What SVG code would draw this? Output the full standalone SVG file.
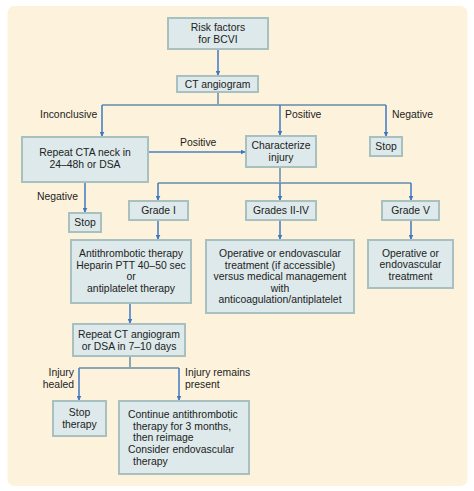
<svg xmlns="http://www.w3.org/2000/svg" width="474" height="491" viewBox="0 0 474 491">
<defs>
<marker id="ah" viewBox="0 0 8 8" refX="7" refY="4" markerWidth="5" markerHeight="5" orient="auto" markerUnits="userSpaceOnUse">
<path d="M0,0 L8,4 L0,8 z" fill="#3f78c2"/>
</marker>
<style>
.bx{fill:#dde9ea;stroke:#a9c0c0;stroke-width:2}
.t{font-family:"Liberation Sans",Arial,sans-serif;font-size:10.4px;fill:#222;text-anchor:middle}
.l{font-family:"Liberation Sans",Arial,sans-serif;font-size:10.4px;fill:#222}
.ln{fill:none;stroke:#8aa5b5;stroke-width:2}
.ar{fill:none;stroke:#4a80c4;stroke-width:1.6;marker-end:url(#ah)}
</style>
</defs>
<rect x="0" y="0" width="474" height="491" fill="#ffffff"/>
<rect x="7.5" y="6" width="460" height="480" rx="7" fill="#fdf3dc"/>

<g id="connectors">
<path class="ar" d="M218,49 V75"/>
<path class="ln" d="M218,92 V105 M102,105 H386"/>
<path class="ar" d="M102,105 V136"/>
<path class="ar" d="M280,105 V135"/>
<path class="ar" d="M386,105 V136"/>
<path class="ar" d="M148,152 H245"/>
<path class="ar" d="M85,182 V212"/>
<path class="ln" d="M280,167 V183 M158,183 H411"/>
<path class="ar" d="M158,183 V200"/>
<path class="ar" d="M280,183 V200"/>
<path class="ar" d="M411,183 V200"/>
<path class="ar" d="M158,220 V239"/>
<path class="ar" d="M280,220 V239"/>
<path class="ar" d="M411,220 V239"/>
<path class="ar" d="M130,303 V323"/>
<path class="ln" d="M130,356 V368 M79,368 H179"/>
<path class="ar" d="M79,368 V400"/>
<path class="ar" d="M179,368 V400"/>
<text class="l" x="40" y="118">Inconclusive</text>
<text class="l" x="285" y="118">Positive</text>
<text class="l" x="392" y="118">Negative</text>
<text class="l" x="180" y="146">Positive</text>
<text class="l" x="37" y="200">Negative</text>
<text class="l" x="74" y="376" text-anchor="end">Injury</text>
<text class="l" x="74" y="388" text-anchor="end">healed</text>
<text class="l" x="185" y="376">Injury remains</text>
<text class="l" x="185" y="388">present</text>
</g>

<g id="risk"><rect class="bx" x="168" y="18" width="100" height="31"/>
<text class="t" x="218" y="31">Risk factors</text><text class="t" x="218" y="43">for BCVI</text></g>
<g id="cta"><rect class="bx" x="177" y="76" width="81" height="16"/>
<text class="t" x="217.5" y="87.5">CT angiogram</text></g>
<g id="repeatcta"><rect class="bx" x="22" y="137" width="126" height="45"/>
<text class="t" x="85" y="156">Repeat CTA neck in</text><text class="t" x="85" y="168">24–48h or DSA</text></g>
<g id="characterize"><rect class="bx" x="246" y="136" width="70" height="31"/>
<text class="t" x="281" y="149">Characterize</text><text class="t" x="281" y="161">injury</text></g>
<g id="stop1"><rect class="bx" x="370" y="137" width="32" height="19"/>
<text class="t" x="386" y="150">Stop</text></g>
<g id="stop2"><rect class="bx" x="69" y="213" width="32" height="19"/>
<text class="t" x="85" y="226">Stop</text></g>
<g id="grade1"><rect class="bx" x="129" y="201" width="59" height="19"/>
<text class="t" x="158.5" y="214">Grade I</text></g>
<g id="grade2"><rect class="bx" x="246" y="201" width="70" height="19"/>
<text class="t" x="281" y="214">Grades II-IV</text></g>
<g id="grade5"><rect class="bx" x="382" y="201" width="57" height="19"/>
<text class="t" x="410.5" y="214">Grade V</text></g>
<g id="antithrombotic"><rect class="bx" x="71" y="240" width="120" height="63"/>
<text class="t" x="131" y="256.5">Antithrombotic therapy</text>
<text class="t" x="131" y="268.5">Heparin PTT 40–50 sec</text>
<text class="t" x="131" y="280">or</text>
<text class="t" x="131" y="291.5">antiplatelet therapy</text></g>
<g id="operative2"><rect class="bx" x="206" y="240" width="148" height="73"/>
<text class="t" x="280" y="256.5">Operative or endovascular</text>
<text class="t" x="280" y="268.5">treatment (if accessible)</text>
<text class="t" x="280" y="280">versus medical management</text>
<text class="t" x="280" y="291.5">with</text>
<text class="t" x="280" y="303">anticoagulation/antiplatelet</text></g>
<g id="operative5"><rect class="bx" x="368" y="240" width="85" height="48"/>
<text class="t" x="410.5" y="256.5">Operative or</text>
<text class="t" x="410.5" y="268">endovascular</text>
<text class="t" x="410.5" y="279.5">treatment</text></g>
<g id="repeatct"><rect class="bx" x="73" y="324" width="112" height="32"/>
<text class="t" x="129" y="337.5">Repeat CT angiogram</text>
<text class="t" x="129" y="349.5">or DSA in 7–10 days</text></g>
<g id="stoptherapy"><rect class="bx" x="53" y="401" width="53" height="35"/>
<text class="t" x="79.5" y="415.5">Stop</text>
<text class="t" x="79.5" y="427.5">therapy</text></g>
<g id="continue"><rect class="bx" x="119" y="401" width="130" height="73"/>
<text class="l" x="128" y="417.5">Continue antithrombotic</text>
<text class="l" x="133" y="429.5">therapy for 3 months,</text>
<text class="l" x="133" y="441">then reimage</text>
<text class="l" x="128" y="452.5">Consider endovascular</text>
<text class="l" x="133" y="464.5">therapy</text></g>
</svg>
